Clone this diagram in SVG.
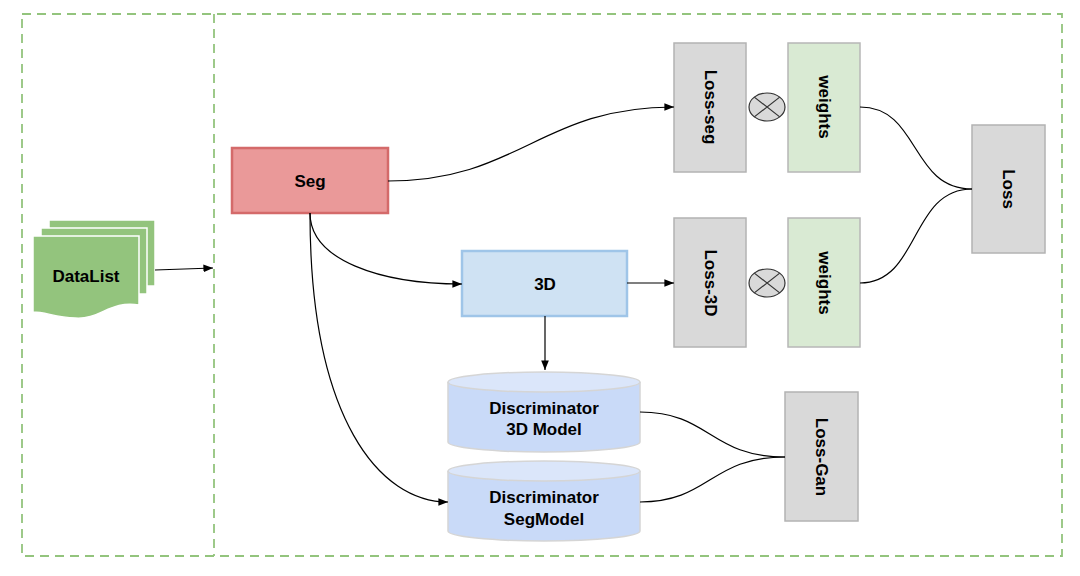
<svg xmlns="http://www.w3.org/2000/svg" width="1080" height="576" viewBox="0 0 1080 576">
<defs>
<marker id="ah" viewBox="0 0 10 10" refX="10" refY="5" markerWidth="8" markerHeight="8" orient="auto"><path d="M0,1 L10,5 L0,9 z" fill="#000"/></marker>
<style>
.t{font-family:"Liberation Sans",Arial,sans-serif;font-weight:bold;font-size:17px;fill:#000;text-anchor:middle;dominant-baseline:central}
.c{fill:none;stroke:#000;stroke-width:1.2}
.g{fill:#d9d9d9;stroke:#b3b3b3;stroke-width:1.5}
.w{fill:#d9ead3;stroke:#b7b7b7;stroke-width:1.5}
.d{fill:#93c47d;stroke:#fff;stroke-width:1.5}
.cy{fill:#c9daf8;stroke:#d5d5d5;stroke-width:1.5}
</style>
</defs>
<rect width="1080" height="576" fill="#fff"/>
<g id="frame" fill="none" stroke="#93c47d" stroke-width="1.8" stroke-dasharray="9,6">
<rect x="22" y="14" width="1040" height="542"/>
<line x1="214" y1="14" x2="214" y2="556"/>
</g>
<g id="datalist">
<rect class="d" x="49" y="220" width="106" height="66"/>
<rect class="d" x="41" y="228" width="106" height="66"/>
<path class="d" d="M33,236 H139 V305 C110,300 100,320 75,318 C55,317 45,312 33,312 Z"/>
<text class="t" x="86" y="276">DataList</text>
</g>
<g id="seg"><rect x="232" y="148" width="156" height="65" fill="#ea9999" stroke="#d46a6a" stroke-width="2.5"/><text class="t" x="310" y="181">Seg</text></g>
<g id="n3d"><rect x="462" y="251" width="165" height="65" fill="#cfe2f3" stroke="#9fc5e8" stroke-width="2.5"/><text class="t" x="545" y="284">3D</text></g>
<g id="lossseg"><rect class="g" x="674" y="43" width="72" height="129"/><text class="t" transform="translate(710,107) rotate(90)">Loss-seg</text></g>
<g id="weights1"><rect class="w" x="788" y="43" width="72" height="129"/><text class="t" transform="translate(824,107) rotate(90)">weights</text></g>
<g id="loss3d"><rect class="g" x="674" y="218" width="72" height="129"/><text class="t" transform="translate(710,283) rotate(90)">Loss-3D</text></g>
<g id="weights2"><rect class="w" x="788" y="218" width="72" height="129"/><text class="t" transform="translate(824,283) rotate(90)">weights</text></g>
<g id="mul1"><ellipse cx="767" cy="107" rx="18" ry="14" fill="#d9d9d9" stroke="#333" stroke-width="1.2"/><path d="M754.3,97.1 L779.7,116.9 M779.7,97.1 L754.3,116.9" stroke="#333" stroke-width="1.2"/></g>
<g id="mul2"><ellipse cx="767" cy="283" rx="18" ry="14" fill="#d9d9d9" stroke="#333" stroke-width="1.2"/><path d="M754.3,273.1 L779.7,292.9 M779.7,273.1 L754.3,292.9" stroke="#333" stroke-width="1.2"/></g>
<g id="loss"><rect class="g" x="972" y="125" width="73" height="128"/><text class="t" transform="translate(1008,189) rotate(90)">Loss</text></g>
<g id="lossgan"><rect class="g" x="785" y="392" width="73" height="129"/><text class="t" transform="translate(821,457) rotate(90)">Loss-Gan</text></g>
<g id="disc3d">
<path class="cy" d="M448,382 V442 A96,10 0 0 0 640,442 V382"/>
<ellipse cx="544" cy="382" rx="96" ry="10" fill="#dbe6fa" stroke="#d5d5d5" stroke-width="1.5"/>
<text class="t" x="544" y="408">Discriminator</text><text class="t" x="544" y="429">3D Model</text>
</g>
<g id="discseg">
<path class="cy" d="M448,471 V531 A96,10 0 0 0 640,531 V471"/>
<ellipse cx="544" cy="471" rx="96" ry="10" fill="#dbe6fa" stroke="#d5d5d5" stroke-width="1.5"/>
<text class="t" x="544" y="497">Discriminator</text><text class="t" x="544" y="519">SegModel</text>
</g>
<g id="connectors">
<path class="c" marker-end="url(#ah)" d="M155,270 L213,268"/>
<path class="c" marker-end="url(#ah)" d="M388,181 C520,181 540,107 674,107"/>
<path class="c" marker-end="url(#ah)" d="M310,213 C310,260 380,284 462,284"/>
<path class="c" marker-end="url(#ah)" d="M310,213 C310,420 380,502 448,502"/>
<path class="c" marker-end="url(#ah)" d="M627,283 L674,283"/>
<path class="c" marker-end="url(#ah)" d="M545,316 L545,370"/>
<path class="c" d="M860,107 C920,107 910,189 972,189"/>
<path class="c" d="M860,283 C920,283 910,189 972,189"/>
<path class="c" d="M640,412 C710,412 710,457 785,457"/>
<path class="c" d="M640,502 C710,502 710,457 785,457"/>
</g>
</svg>
